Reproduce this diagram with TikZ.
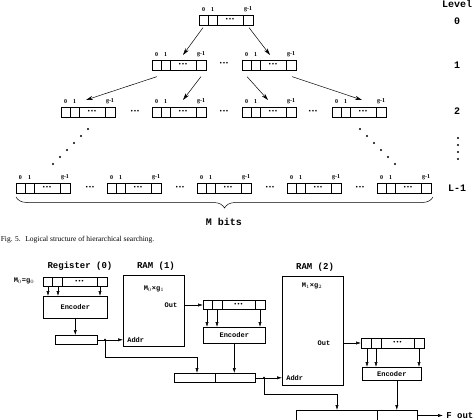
\documentclass[tikz,border=0pt]{standalone}
\usepackage{fontspec}
\setmainfont{Liberation Serif}
\setmonofont{Liberation Mono}
\usetikzlibrary{arrows.meta,decorations.pathreplacing}
\tikzset{
  tb/.style={draw, rectangle, minimum width=54pt, minimum height=10pt, inner sep=0pt, anchor=north west},
  cnum/.style={font=\bfseries\fontsize{6}{6}\selectfont, inner sep=0pt},
  tdots/.style={font=\fontsize{7}{7}\selectfont, inner sep=0pt},
  tarrow/.style={-{Stealth[length=7pt,width=4pt]}, line width=0.5pt},
  lvl/.style={font=\ttfamily\bfseries\fontsize{10}{10}\selectfont, inner sep=0pt},
  bigdot/.style={circle, fill, inner sep=0pt, minimum size=2.2pt},
  mono/.style={font=\ttfamily\bfseries\fontsize{9}{9}\selectfont, inner sep=0pt},
  small/.style={font=\ttfamily\bfseries\fontsize{7}{7}\selectfont, inner sep=0pt},
  box/.style={draw, rectangle, inner sep=0pt, anchor=north west},
  barrow/.style={-{Latex[length=5pt,width=3.2pt]}, line width=0.5pt},
  jdot/.style={circle, fill, inner sep=0pt, minimum size=2pt},
}
\newcommand\tbox[3]{%
  \node[tb] (#1) at (#2,#3) {};
  \draw ([xshift=9pt]#1.north west) -- ([xshift=9pt]#1.south west)
        ([xshift=18pt]#1.north west) -- ([xshift=18pt]#1.south west)
        ([xshift=44pt]#1.north west) -- ([xshift=44pt]#1.south west);
  \node[tdots] (#1-d) at ([xshift=31pt]#1.west) {\textbullet\hspace{0.6pt}\textbullet\hspace{0.6pt}\textbullet};
  \node[cnum] (#1-a) at ([xshift=4.5pt,yshift=5.5pt]#1.north west) {0};
  \node[cnum] (#1-b) at ([xshift=13.5pt,yshift=5.5pt]#1.north west) {1};
  \node[cnum] (#1-c) at ([xshift=49pt,yshift=5.5pt]#1.north west) {g-1};
}
\newcommand\regcells[4]{% name, x1, x2, x3 offsets
  \draw ([xshift=#2pt]#1.north west) -- ([xshift=#2pt]#1.south west)
        ([xshift=#3pt]#1.north west) -- ([xshift=#3pt]#1.south west)
        ([xshift=#4pt]#1.north west) -- ([xshift=#4pt]#1.south west);
}
\begin{document}
\begin{tikzpicture}[x=1pt,y=-1pt,line width=0.6pt]
\useasboundingbox (0,0) rectangle (474,420);
\clip (0,0) rectangle (474,420);

% ---------- tree ----------
\tbox{t0}{199}{15}
\tbox{t1a}{152}{60}
\tbox{t1b}{242}{60}
\tbox{t2a}{61}{107}
\tbox{t2b}{152}{107}
\tbox{t2c}{242}{107}
\tbox{t2d}{332}{107}
\tbox{t3a}{16}{183}
\tbox{t3b}{107}{183}
\tbox{t3c}{197}{183}
\tbox{t3d}{287}{183}
\tbox{t3e}{377}{183}

\foreach \n/\x/\y in {d1/224/64, d2/135/112, d3/224/112, d4/313/112, d5/90/188, d6/180/188, d7/270/188, d8/360/188}
  \node[tdots] (\n) at (\x,\y) {\textbullet\hspace{0.6pt}\textbullet\hspace{0.6pt}\textbullet};

\draw[tarrow] ([xshift=4pt,yshift=-2pt]t0.south west) -- ([xshift=31pt,yshift=5pt]t1a.north west);
\draw[tarrow] ([xshift=50pt,yshift=-2pt]t0.south west) -- ([xshift=28pt,yshift=5pt]t1b.north west);
\draw[tarrow] ([xshift=5pt,yshift=-6pt]t1a.south west) -- ([xshift=25pt,yshift=7pt]t2a.north west);
\draw[tarrow] ([xshift=49pt,yshift=-6pt]t1a.south west) -- ([xshift=31pt,yshift=7pt]t2b.north west);
\draw[tarrow] ([xshift=5pt,yshift=-6pt]t1b.south west) -- ([xshift=26pt,yshift=7pt]t2c.north west);
\draw[tarrow] ([xshift=50pt,yshift=-6pt]t1b.south west) -- ([xshift=30pt,yshift=7pt]t2d.north west);

\foreach \x/\y [count=\i] in {88/129, 81/136, 74/143, 67/150, 60/157, 53/164}
  \node[bigdot] (ld\i) at (\x,\y) {};
\foreach \x/\y [count=\i] in {360/129, 367/136, 374/143, 381/150, 388/157, 395/164}
  \node[bigdot] (rd\i) at (\x,\y) {};

\node[lvl] (lev) at (457,4) {Level};
\node[lvl] (lv0) at (457,21) {0};
\node[lvl] (lv1) at (457,65) {1};
\node[lvl] (lv2) at (457,111) {2};
\foreach \y [count=\i] in {138,145,152,159}
  \node[bigdot] (vd\i) at (458,\y) {};
\node[lvl] (lv3) at (457,188) {L-1};

\draw[decorate, decoration={brace, amplitude=11pt, mirror}, line width=0.5pt] (16,197) -- (433,197);
\node[lvl] (mbits) at (224,222) {M bits};

\node[font=\fontsize{7.5}{7.5}\selectfont, inner sep=0pt, anchor=base west] (fig) at (0.5,241) {Fig. 5.};
\node[font=\fontsize{7.5}{7.5}\selectfont, inner sep=0pt, anchor=base west] (cap) at (fig.base east) {\hspace{4pt}Logical structure of hierarchical searching.};

% ---------- hardware ----------
\node[mono] (reg0t) at (80,266) {Register (0)};
\node[mono] (ram1t) at (156,266) {RAM (1)};
\node[mono] (ram2t) at (315,267) {RAM (2)};

\node[small] (m0) at (24,281) {M$_0$=g$_0$};
\node[box, minimum width=64pt, minimum height=9pt] (reg0) at (43,277) {};
\regcells{reg0}{9}{19}{54}
\node[tdots] (reg0d) at ([xshift=36.5pt]reg0.west) {\textbullet\hspace{0.6pt}\textbullet\hspace{0.6pt}\textbullet};
\node[box, minimum width=64pt, minimum height=22pt, small] (enc0) at (43,296) {Encoder};
\foreach \s in {5,15,57}
  \draw[barrow] ([xshift=\s pt]reg0.south west) -- ([xshift=\s pt]enc0.north west);
\node[box, minimum width=42pt, minimum height=9pt] (a0) at (55,335) {};
\draw[barrow] (enc0.south) -- (enc0.south |- a0.north);

\node[box, minimum width=61pt, minimum height=71pt] (ram1) at (123,275) {};
\node[small] (ram1m) at (154,289) {M$_0$×g$_1$};
\node[small] (ram1o) at (171,305) {Out};
\node[small, anchor=west] (ram1a) at (127,340) {Addr};
\coordinate (j0) at (105,339.5);
\node[jdot] (j0d) at (j0) {};
\draw[barrow] (a0.east) -- (a0.east -| ram1.west);

\node[box, minimum width=62pt, minimum height=9pt] (reg1) at (203,300) {};
\regcells{reg1}{9}{19}{52}
\node[tdots] (reg1d) at ([xshift=35.5pt]reg1.west) {\textbullet\hspace{0.6pt}\textbullet\hspace{0.6pt}\textbullet};
\draw[barrow] (ram1o.east -| ram1.east) -- (ram1o.east -| reg1.west);
\node[box, minimum width=62pt, minimum height=16pt, small] (enc1) at (203,327) {Encoder};
\foreach \s in {4,14,57}
  \draw[barrow] ([xshift=\s pt]reg1.south west) -- ([xshift=\s pt]enc1.north west);

\node[box, minimum width=81pt, minimum height=9pt] (c1) at (174,373) {};
\draw ([xshift=41pt]c1.north west) -- ([xshift=41pt]c1.south west);
\draw[barrow] (j0) -- (105,357) -| ([xshift=23pt]c1.north west);
\draw[barrow] (enc1.south) -- (enc1.south |- c1.north);

\node[box, minimum width=61pt, minimum height=109pt] (ram2) at (282,276) {};
\node[small] (ram2m) at (312,286) {M$_1$×g$_2$};
\node[small] (ram2o) at (324,343) {Out};
\node[small, anchor=west] (ram2a) at (286,378) {Addr};
\coordinate (j1) at (264,377.5);
\node[jdot] (j1d) at (j1) {};
\draw[barrow] (c1.east) -- (c1.east -| ram2.west);

\node[box, minimum width=63pt, minimum height=10pt] (reg2) at (361,338) {};
\regcells{reg2}{10}{20}{53}
\node[tdots] (reg2d) at ([xshift=36.5pt]reg2.west) {\textbullet\hspace{0.6pt}\textbullet\hspace{0.6pt}\textbullet};
\draw[barrow] (ram2o.east -| ram2.east) -- (ram2o.east -| reg2.west);
\node[box, minimum width=59pt, minimum height=13pt, small] (enc2) at (362,367) {Encoder};
\foreach \s in {6,15,58}
  \draw[barrow] ([xshift=\s pt]reg2.south west) -- ([xshift=\s pt]reg2.south west |- enc2.north);

\node[box, minimum width=121pt, minimum height=12pt] (c2) at (296,410) {};
\draw ([xshift=81pt]c2.north west) -- ([xshift=81pt]c2.south west);
\draw[barrow] (j1) -- (264,394) -| ([xshift=41pt]c2.north west);
\draw[barrow] (enc2.south) ++(5pt,0) coordinate (e2s) -- (e2s |- c2.north);
\coordinate (fo) at (443,415.5);
\draw[barrow] (c2.east |- fo) -- (fo);
\node[mono, anchor=west] (fout) at (446,415.5) {F out};
\end{tikzpicture}
\end{document}
